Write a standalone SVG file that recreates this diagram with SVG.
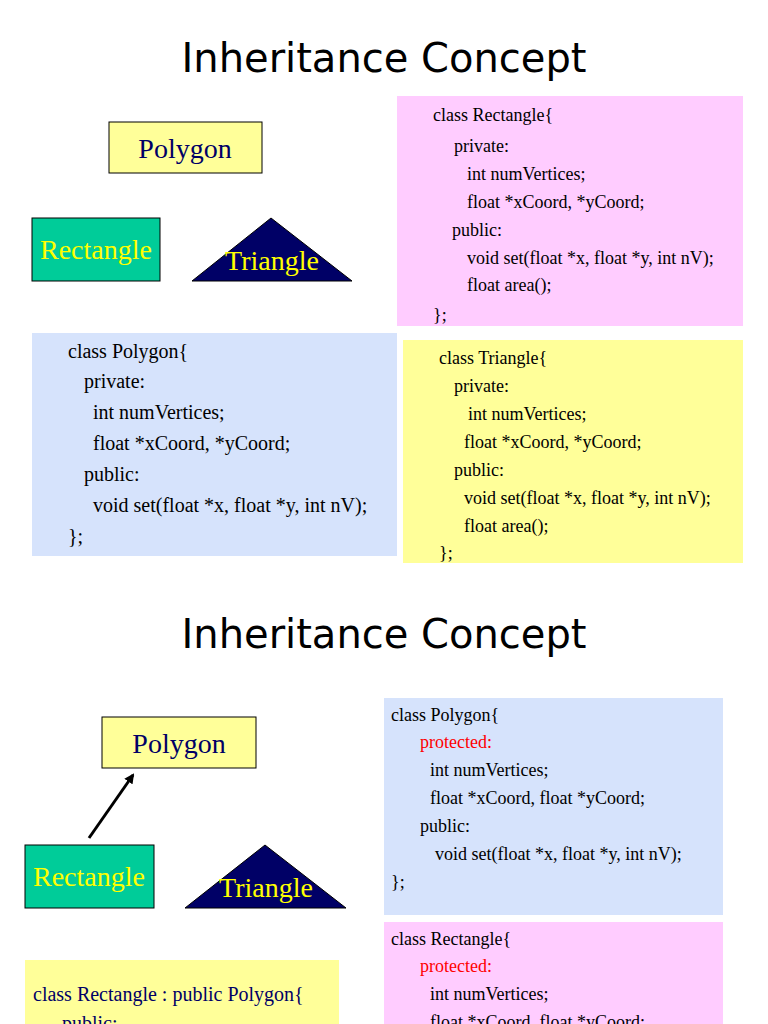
<svg xmlns="http://www.w3.org/2000/svg" width="768" height="1024" viewBox="0 0 768 1024">
<style>
.t{font-family:"DejaVu Sans",sans-serif;font-size:40px;fill:#000;text-anchor:middle}
.c{font-family:"Liberation Serif",serif;font-size:18px;fill:#000}
.cb{font-family:"Liberation Serif",serif;font-size:20px;fill:#000}
.n{font-family:"Liberation Serif",serif;font-size:28px;text-anchor:middle}
.red{fill:#ff0000}
.nv{fill:#000066}
</style>
<defs><marker id="ah" markerWidth="10" markerHeight="10" refX="8" refY="5" orient="auto" markerUnits="userSpaceOnUse"><path d="M0,0 L10,5 L0,10 z" fill="#000"/></marker></defs>
<rect width="768" height="1024" fill="#fff"/>
<text class="t" x="384" y="72">Inheritance Concept</text>
<text class="t" x="384" y="648">Inheritance Concept</text>

<g id="polygon1"><rect x="109" y="122" width="153" height="51" fill="#ffff99" stroke="#000"/><text class="n" x="185" y="158" fill="#000066">Polygon</text></g>
<g id="rectangle1"><rect x="32" y="218" width="128" height="63" fill="#00cc99" stroke="#000"/><text class="n" x="96" y="259" fill="#ffff00" font-size="24">Rectangle</text></g>
<g id="triangle1"><polygon points="192,281 271,218 352,281" fill="#000066" stroke="#000"/><text class="n" x="272" y="270" fill="#ffff00" font-size="24">Triangle</text></g>

<g id="rectcode1"><rect x="397" y="96" width="346" height="230" fill="#ffccff"/>
<text class="c" x="433" y="121">class Rectangle{</text>
<text class="c" x="454" y="152">private:</text>
<text class="c" x="467" y="180">int numVertices;</text>
<text class="c" x="467" y="208">float *xCoord, *yCoord;</text>
<text class="c" x="452" y="236">public:</text>
<text class="c" x="467" y="264">void set(float *x, float *y, int nV);</text>
<text class="c" x="467" y="291">float area();</text>
<text class="c" x="433" y="321">};</text></g>

<g id="polycode1"><rect x="32" y="333" width="365" height="223" fill="#d6e3fc"/>
<text class="cb" x="68" y="358">class Polygon{</text>
<text class="cb" x="84" y="388">private:</text>
<text class="cb" x="93" y="419">int numVertices;</text>
<text class="cb" x="93" y="450">float *xCoord, *yCoord;</text>
<text class="cb" x="84" y="481">public:</text>
<text class="cb" x="93" y="512">void set(float *x, float *y, int nV);</text>
<text class="cb" x="68" y="543">};</text></g>

<g id="tricode1"><rect x="403" y="340" width="340" height="223" fill="#ffff99"/>
<text class="c" x="439" y="364">class Triangle{</text>
<text class="c" x="454" y="392">private:</text>
<text class="c" x="468" y="420">int numVertices;</text>
<text class="c" x="464" y="448">float *xCoord, *yCoord;</text>
<text class="c" x="454" y="476">public:</text>
<text class="c" x="464" y="504">void set(float *x, float *y, int nV);</text>
<text class="c" x="464" y="532">float area();</text>
<text class="c" x="439" y="559">};</text></g>

<g id="polygon2"><rect x="102" y="717" width="154" height="51" fill="#ffff99" stroke="#000"/><text class="n" x="179" y="753" fill="#000066">Polygon</text></g>
<g id="rectangle2"><rect x="25" y="845" width="129" height="63" fill="#00cc99" stroke="#000"/><text class="n" x="89" y="886" fill="#ffff00" font-size="24">Rectangle</text></g>
<g id="triangle2"><polygon points="185,908 265,845 346,908" fill="#000066" stroke="#000"/><text class="n" x="266" y="897" fill="#ffff00" font-size="24">Triangle</text></g>

<g id="connectors"><line x1="89" y1="838" x2="133" y2="775" stroke="#000" stroke-width="3" marker-end="url(#ah)"/></g>

<g id="polycode2"><rect x="384" y="698" width="339" height="217" fill="#d6e3fc"/>
<text class="c" x="391" y="721">class Polygon{</text>
<text class="c red" x="420" y="748">protected:</text>
<text class="c" x="430" y="776">int numVertices;</text>
<text class="c" x="430" y="804">float *xCoord, float *yCoord;</text>
<text class="c" x="420" y="832">public:</text>
<text class="c" x="435" y="860">void set(float *x, float *y, int nV);</text>
<text class="c" x="391" y="888">};</text></g>

<g id="rectcode2"><rect x="384" y="922" width="339" height="110" fill="#ffccff"/>
<text class="c" x="391" y="945">class Rectangle{</text>
<text class="c red" x="420" y="972">protected:</text>
<text class="c" x="430" y="1000">int numVertices;</text>
<text class="c" x="430" y="1028">float *xCoord, float *yCoord;</text></g>

<g id="rectderived"><rect x="25" y="960" width="314" height="70" fill="#ffff99"/>
<text class="cb nv" x="33" y="1001">class Rectangle : public Polygon{</text>
<text class="cb nv" x="62" y="1030">public:</text></g>
</svg>
